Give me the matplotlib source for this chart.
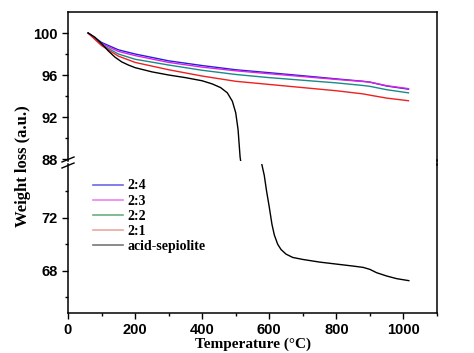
import matplotlib
matplotlib.use('Agg')
import matplotlib.pyplot as plt
from matplotlib.lines import Line2D
from matplotlib.font_manager import FontProperties

# temperature points (deg C) shared by the four composite curves
temp = [60, 100, 150, 200, 300, 400, 500, 600, 700, 800, 880, 900, 950, 1015]
w_24 = [100, 99.1, 98.4, 98.0, 97.35, 96.9, 96.5, 96.22, 95.93, 95.63, 95.4, 95.32, 94.95, 94.65]
w_23 = [100, 99.0, 98.25, 97.85, 97.2, 96.75, 96.4, 96.12, 95.85, 95.58, 95.38, 95.32, 94.98, 94.7]
w_22 = [100, 98.9, 98.0, 97.5, 96.95, 96.45, 96.05, 95.75, 95.5, 95.25, 95.0, 94.92, 94.6, 94.3]
w_21 = [100, 98.8, 97.8, 97.2, 96.5, 95.9, 95.4, 95.1, 94.8, 94.5, 94.2, 94.08, 93.8, 93.55]

# acid-sepiolite has its own temperature points
temp_acid = [60, 80, 100, 120, 140, 160, 180, 200, 250, 300, 350, 400, 430, 455, 475, 490,
             500, 507, 513, 540, 578, 585, 592, 600, 608, 615, 625, 635, 650, 670, 700,
             750, 800, 850, 880, 900, 920, 950, 980, 1016]
w_acid = [100, 99.6, 99.0, 98.3, 97.7, 97.25, 96.95, 96.7, 96.3, 96.0, 95.75, 95.45, 95.15,
          94.8, 94.3, 93.5, 92.4, 90.8, 88.2, 82.0, 76.0, 75.2, 74.0, 72.8, 71.5, 70.7, 70.0,
          69.6, 69.25, 69.0, 68.85, 68.65, 68.5, 68.35, 68.25, 68.1, 67.85, 67.6, 67.4, 67.25]

labels = ['2:4', '2:3', '2:2', '2:1', 'acid-sepiolite']
colors = ['#2020e0', '#e020e0', '#1a8a8a', '#ee2020', '#000000']
legend_colors = ['#6a6ae0', '#ee80ee', '#66b080', '#eaa8a0', '#777777']

W, H = 474, 353
fig = plt.figure(figsize=(W / 100, H / 100), dpi=100)

left, right = 68, 437
ax_top = fig.add_axes([left / W, 1 - 161 / H, (right - left) / W, 149 / H])
ax_bot = fig.add_axes([left / W, 1 - 313 / H, (right - left) / W, 149 / H])

series = [w_24, w_23, w_22, w_21]
for ax in (ax_top, ax_bot):
    for vals, c in zip(series, colors[:4]):
        ax.plot(temp, vals, color=c, lw=1.0)
    ax.plot(temp_acid, w_acid, color=colors[4], lw=1.0)
    ax.set_xlim(0, 1100)
    for s in ax.spines.values():
        s.set_linewidth(1.1)
    ax.tick_params(which='both', direction='out', right=False, top=False, width=1.0)
    ax.tick_params(which='major', length=4)
    ax.tick_params(which='minor', length=2.5)

ax_top.set_ylim(87.81, 102.0)
ax_top.set_yticks([88, 92, 96, 100])
ax_top.set_yticks([90, 94, 98], minor=True)
ax_top.spines['bottom'].set_visible(False)
ax_top.tick_params(axis='x', which='both', bottom=False, labelbottom=False)

ax_bot.set_ylim(64.81, 76.05)
ax_bot.set_yticks([68, 72])
ax_bot.set_yticks([66, 70, 74], minor=True)
ax_bot.spines['top'].set_visible(False)
ax_bot.set_xticks([0, 200, 400, 600, 800, 1000])
ax_bot.set_xticks([100, 300, 500, 700, 900, 1100], minor=True)

tick_font = FontProperties(family='Liberation Sans', weight='bold', size=10.5)
for ax in (ax_top, ax_bot):
    for lab in ax.get_xticklabels() + ax.get_yticklabels():
        lab.set_fontproperties(tick_font)

# right spine bridge and break marks on left spine (figure pixel coords)
def px(x, y):
    return x / W, 1 - y / H

fig.add_artist(Line2D(*zip(px(right, 160), px(right, 165)), color='black', lw=1.1))
fig.add_artist(Line2D(*zip(px(62, 162), px(74, 157)), color='black', lw=1.0))
fig.add_artist(Line2D(*zip(px(62, 168), px(74, 163)), color='black', lw=1.0))

handles = [Line2D([], [], color=c, lw=1.2) for c in legend_colors]
ax_bot.legend(handles, labels, loc='upper left', bbox_to_anchor=(0.068, 0.896),
              frameon=False, borderpad=0, borderaxespad=0, handlelength=2.15,
              handletextpad=0.35, labelspacing=0.15,
              prop=dict(family='Liberation Serif', weight='bold', size=10))

fig.text(23 / W, 1 - 166 / H, 'Weight loss (a.u.)', rotation=90, ha='center', va='center',
         family='Liberation Serif', weight='bold', size=12)
fig.text(253 / W, 1 - 351 / H, 'Temperature (\u00b0C)', ha='center', va='bottom',
         family='Liberation Serif', weight='bold', size=11)

fig.savefig('out.png', dpi=100)
